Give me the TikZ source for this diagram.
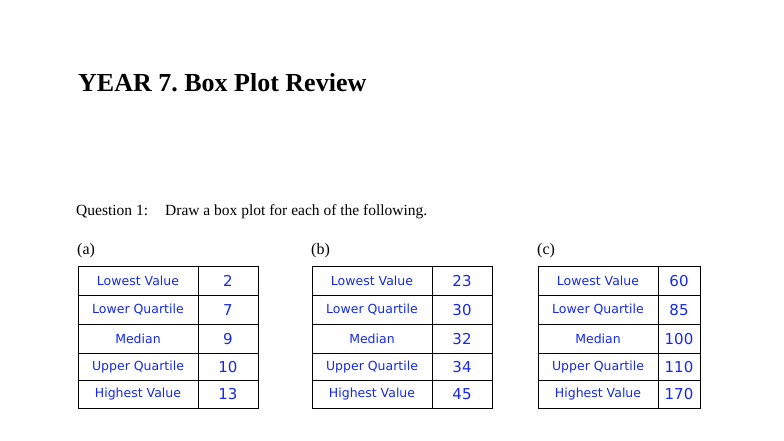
\documentclass[tikz,border=0pt]{standalone}
\usepackage{fontspec}
\setmainfont{Liberation Serif}
\newfontfamily\lab{DejaVu Sans}
\definecolor{tblue}{RGB}{20,40,235}
\begin{document}
\begin{tikzpicture}[x=1pt,y=-1pt,
  lbl/.style={font=\lab\fontsize{12.5}{14}\selectfont,text=tblue},
  val/.style={font=\lab\fontsize{15}{17}\selectfont,text=tblue},
  grid/.style={draw=black,line width=0.8pt}]
\useasboundingbox (0,0) rectangle (784,441);
\node[anchor=base west,inner sep=0pt,font=\bfseries\fontsize{26}{30}\selectfont] (title) at (78,92) {YEAR 7.\ Box Plot Review};
\node[anchor=base west,inner sep=0pt,font=\fontsize{15.5}{18}\selectfont] (q1) at (76,215) {Question 1:\hspace{1.1em}Draw a box plot for each of the following.};
\foreach \L/\x/\d/\r/\tag/\a/\b/\c/\e/\f in {a/78/198/258/(a)/2/7/9/10/13, b/312/432/492/(b)/23/30/32/34/45, c/538/658/700/(c)/60/85/100/110/170}{
  \node[anchor=base west,inner sep=0pt,font=\fontsize{16}{18}\selectfont] (tag\L) at (\x-1,254) {\tag};
  \draw[grid] (\x,266) rectangle (\r,408);
  \foreach \yy in {295,324,353,380} \draw[grid] (\x,\yy) -- (\r,\yy);
  \draw[grid] (\d,266) -- (\d,408);
  \foreach \t/\v/\yy [count=\i] in {Lowest Value/\a/281, Lower Quartile/\b/310, Median/\c/339, Upper Quartile/\e/367, Highest Value/\f/394}{
    \node[lbl] (l\L\i) at ({(\x+\d)/2},\yy) {\t};
    \node[val] (v\L\i) at ({(\d+\r)/2},\yy) {\v};
  }
}
\end{tikzpicture}
\end{document}
